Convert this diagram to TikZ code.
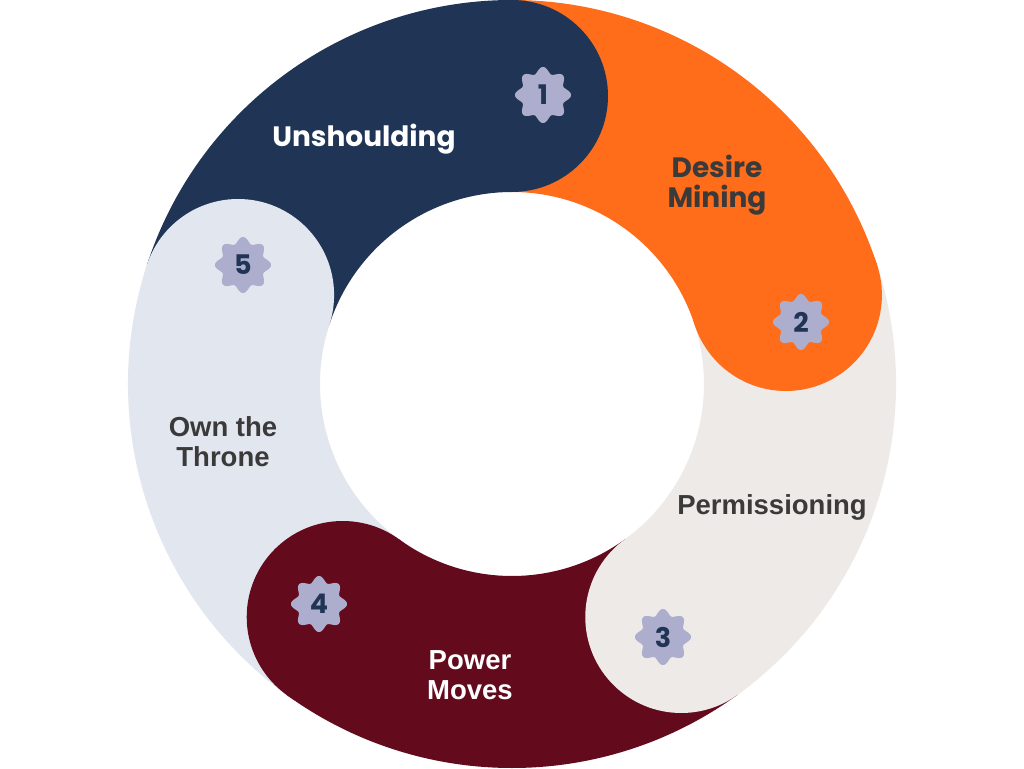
\documentclass[tikz,border=0pt]{standalone}
\usepackage{fontspec}
\newfontfamily\popfont{Poppins}
\newfontfamily\arfont{Liberation Sans}
\definecolor{cnavy}{HTML}{203556}
\definecolor{corange}{HTML}{FF6D1B}
\definecolor{cbeige}{HTML}{EDEAE7}
\definecolor{cmaroon}{HTML}{630A1D}
\definecolor{cgray}{HTML}{E2E6EF}
\definecolor{cbadge}{HTML}{ADADCD}
\definecolor{ctext}{HTML}{3A3A3A}
\begin{document}
\begin{tikzpicture}[x=1pt,y=1pt,
  seglabelA/.style={font=\popfont\bfseries\fontsize{28}{30}\selectfont, align=center},
  seglabelB/.style={font=\arfont\bfseries\fontsize{27.5}{30}\selectfont, align=center},
  badgenum/.style={font=\popfont\bfseries\fontsize{27}{27}\selectfont, text=cnavy, inner sep=0pt},
  centerlabel/.style={font=\popfont\bfseries\fontsize{38}{45}\selectfont, align=center, text=white}
]
\useasboundingbox (-512,-384) rectangle (512,384);
\fill[white] (-512,-384) rectangle (512,384);
% sectors
\foreach \s/\e/\c in {162/90/cnavy, 90/18/corange, 18/-54/cbeige, -54/-126/cmaroon, -126/-198/cgray}{
  \fill[\c] (\s:384) arc[start angle=\s, end angle=\e, radius=384] -- (\e:192) arc[start angle=\e, end angle=\s, radius=192] -- cycle;
}
% caps
\foreach \e/\c in {90/cnavy, 18/corange, -54/cbeige, -126/cmaroon, -198/cgray}{
  \fill[\c] (\e:288) circle[radius=96];
}
% center text
\node[centerlabel] (ctitle) at (10,4) {THE\\FREEDOM\\CYCLE};
% labels
\node[seglabelA, text=white] (l1) at (-148,245) {Unshoulding};
\node[seglabelA, text=ctext] (l2) at (205,199) {Desire\\Mining};
\node[seglabelB, text=ctext] (l3) at (260,-123) {Permissioning};
\node[seglabelB, text=white] (l4) at (-42,-291) {Power\\Moves};
\node[seglabelB, text=ctext] (l5) at (-289,-58) {Own the\\Throne};
% badges
\foreach \n/\bx/\by in {1/31/289, 2/289/62, 3/151/-253, 4/-193/-220, 5/-269/119}{
  \fill[cbadge, shift={(\bx,\by)}] plot[domain=0:360, samples=241, variable=\t] ({(25+3*cos(8*\t))*cos(\t)}, {(25+3*cos(8*\t))*sin(\t)}) -- cycle;
  \node[badgenum] (b\n) at (\bx,\by) {\n};
}
\end{tikzpicture}
\end{document}
